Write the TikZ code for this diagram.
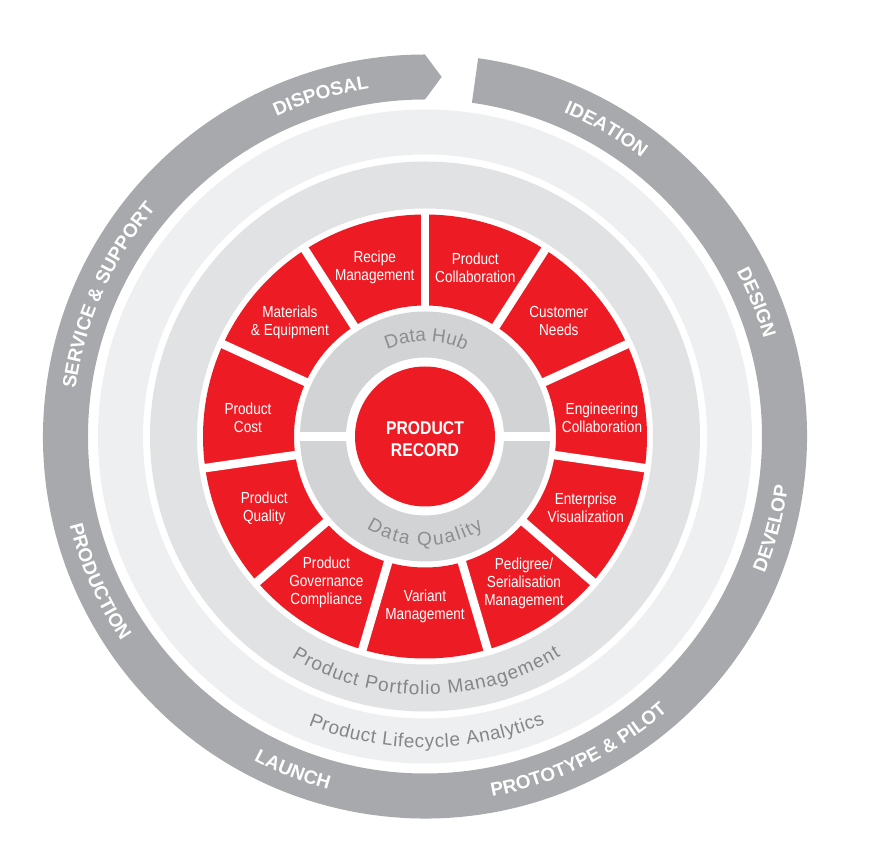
\documentclass[tikz,border=0pt]{standalone}
\usepackage{fontspec}
\setmainfont{Liberation Sans}
\newfontfamily\condfont[FakeStretch=0.85]{Liberation Sans}
\usetikzlibrary{decorations.text}
\definecolor{pgray}{HTML}{A7A9AC}
\definecolor{plife}{HTML}{EEEFF0}
\definecolor{pport}{HTML}{E1E2E3}
\definecolor{pdata}{HTML}{D1D3D4}
\definecolor{pred}{HTML}{ED1C24}
\definecolor{ptext}{HTML}{848688}
\definecolor{pdtext}{HTML}{8C8E91}
\newcommand\outerfont{\fontsize{19}{19}\selectfont\bfseries\color{white}}
\newcommand\ringfont{\fontsize{19}{19}\selectfont\color{ptext}}
\newcommand\datafont{\fontsize{19}{19}\selectfont\color{pdtext}}
% #1 start angle, #2 end angle, #3 radius, #4 alignment, #5 text
\newcommand\arctext[5]{%
  \path[decorate,decoration={text along path,text align=#4,text={#5}}]
    ({#1}:#3) arc[start angle={#1},end angle={#2},radius=#3];}
\tikzset{
  seglab/.style={align=center,text=white,inner sep=0pt,
    font={\condfont\fontsize{16}{18}\selectfont}},
  corelab/.style={align=center,text=white,inner sep=0pt,
    font={\condfont\bfseries\fontsize{18.5}{22}\selectfont}},
  gap/.style={white,line width=8.5pt}
}
\begin{document}
\begin{tikzpicture}[x=1pt,y=1pt]
\useasboundingbox (-425,-421.5) rectangle (445,436.5);
% outer lifecycle arrow
\fill[pgray] (82:382) arc[start angle=82,end angle=-270,radius=382]
  -- (-272.65:360) -- (-270:337) arc[start angle=-270,end angle=82,radius=337] -- cycle;
% rings
\fill[plife,even odd rule] (0,0) circle[radius=327] (0,0) circle[radius=282];
\fill[pport,even odd rule] (0,0) circle[radius=275] (0,0) circle[radius=228];
\fill[pred,even odd rule] (0,0) circle[radius=222] (0,0) circle[radius=131];
\foreach \k in {0,...,10}
  \draw[gap] ({90+\k*32.72727}:126) -- ({90+\k*32.72727}:226);
\fill[pdata,even odd rule] (0,0) circle[radius=125] (0,0) circle[radius=79];
\fill[white] (-127,-4.5) rectangle (127,4.5);
\fill[pred] (0,0) circle[radius=70];
\node[corelab] (core) at (0,-3) {PRODUCT\\RECORD};
% segment labels
\node[seglab] (recipe) at (106.6:176) {Recipe\\Management};
\node[seglab] (pcollab) at (73.4:176) {Product\\Collaboration};
\node[seglab] (customer) at (40.7:176.5) {Customer\\Needs};
\node[seglab] (engcollab) at (6:178) {Engineering\\Collaboration};
\node[seglab] (enterprise) at (-24:176) {Enterprise\\Visualization};
\node[seglab] (pedigree) at (-56:177) {Pedigree/\\Serialisation\\Management};
\node[seglab] (variant) at (-90:170) {Variant\\Management};
\node[seglab] (governance) at (-124:176.4) {Product\\Governance\\Compliance};
\node[seglab] (quality) at (-156:176) {Product\\Quality};
\node[seglab] (cost) at (174:178) {Product\\Cost};
\node[seglab] (materials) at (139.9:176.6) {Materials\\{\&} Equipment};
% data ring labels
\arctext{113.5}{66.5}{95}{fit to path}{|\datafont|Data Hub}
\arctext{-122.6}{-57.4}{108.8}{fit to path}{|\datafont|Data Quality}
% ring labels
\arctext{-121.1}{-58.3}{258.3}{fit to path}{|\ringfont|Product Portfolio Management}
\arctext{-112}{-67.3}{311.3}{fit to path}{|\ringfont|Product Lifecycle Analytics}
% outer phase labels (top: clockwise, bottom: counter-clockwise)
\arctext{137}{77}{352.7}{center}{|\outerfont|DISPOSAL}
\arctext{89.5}{29.5}{352.7}{center}{|\outerfont|IDEATION}
\arctext{52}{-8}{352.7}{center}{|\outerfont|DESIGN}
\arctext{196}{116}{352.7}{center}{|\outerfont|SERVICE {\&} SUPPORT}
\arctext{-44.9}{15.1}{366.3}{center}{|\outerfont|DEVELOP}
\arctext{-104}{-24}{366.3}{center}{|\outerfont|PROTOTYPE {\&} PILOT}
\arctext{-141.6}{-81.6}{366.3}{center}{|\outerfont|LAUNCH}
\arctext{-196}{-116}{366.3}{center}{|\outerfont|PRODUCTION}
\end{tikzpicture}
\end{document}
